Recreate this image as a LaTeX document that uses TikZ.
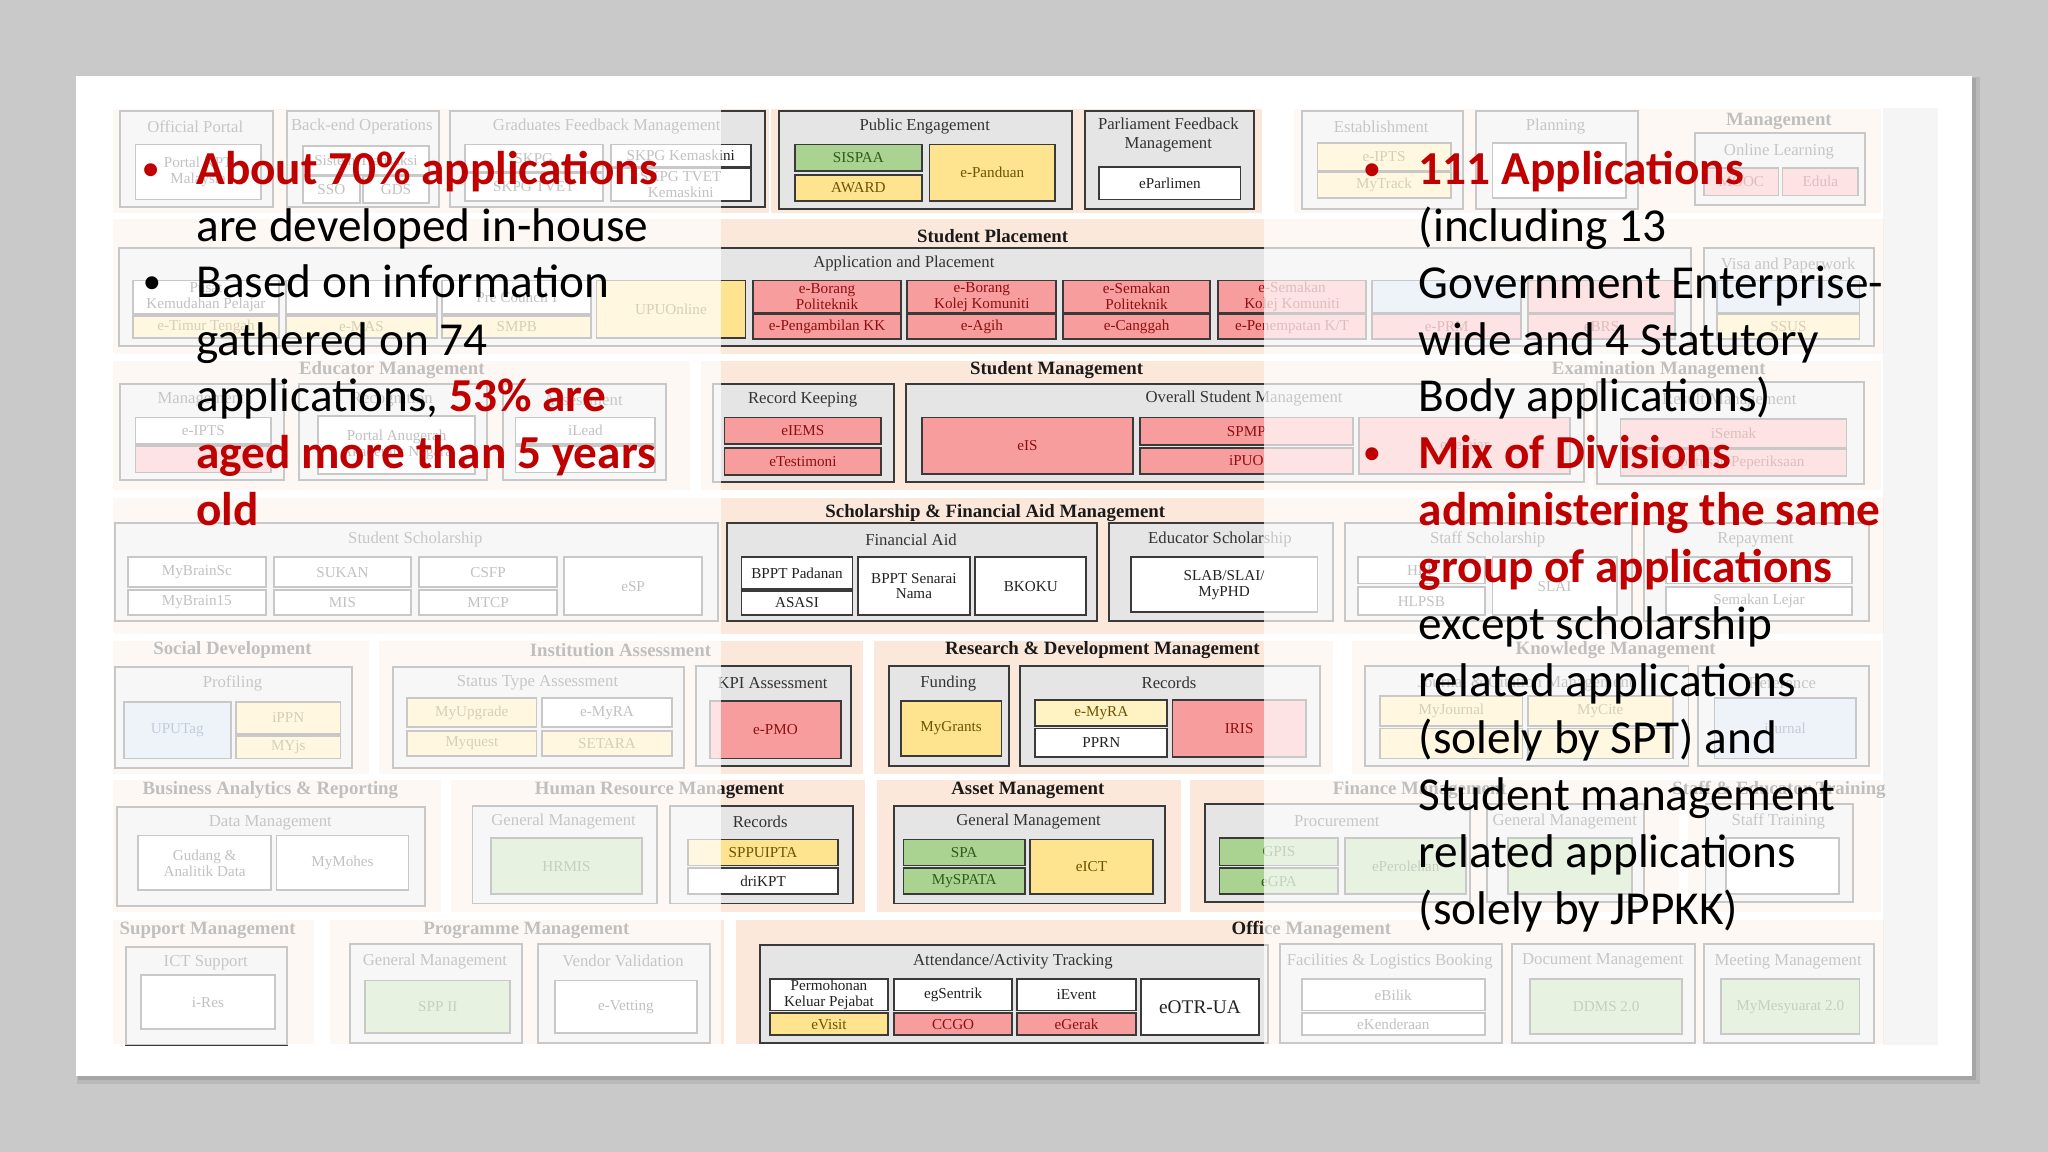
\documentclass[tikz,border=0pt]{standalone}
\usepackage{fontspec}
\setmainfont{Liberation Serif}
\newfontfamily\calibri{Carlito}
\definecolor{bgc}{HTML}{C9C9C9}
\definecolor{secc}{HTML}{FBE8DB}
\definecolor{grpc}{HTML}{E5E5E5}
\definecolor{bordc}{HTML}{3A3A3A}
\definecolor{redc}{HTML}{F89D9D}
\definecolor{redt}{HTML}{8C1010}
\definecolor{yelc}{HTML}{FFE48F}
\definecolor{ylic}{HTML}{FFF3C4}
\definecolor{yelt}{HTML}{6E5200}
\definecolor{grnc}{HTML}{AAD290}
\definecolor{grnt}{HTML}{2E5A1C}
\definecolor{bluc}{HTML}{C4D4EE}
\definecolor{blut}{HTML}{2A4A7A}
\definecolor{whtt}{HTML}{222222}
\definecolor{sectc}{HTML}{1A1A1A}
\definecolor{grptc}{HTML}{333333}
\definecolor{bred}{HTML}{C00000}
\newcommand\appf{\fontsize{5.8}{6.1}\selectfont}
\newcommand\grpf{\fontsize{6.4}{7.2}\selectfont}
\newcommand\secf{\fontsize{7.2}{8}\selectfont\bfseries}
\newcommand\blf{\calibri\fontsize{18.1}{21.8}\selectfont}
\newcommand\bulf{\calibri\fontsize{14}{16}\selectfont}
\newcommand\bx[7]{\node[#6,anchor=north west,minimum width={(#4-#2)*0.5pt},minimum height={(#5-#3)*0.5pt}] (#1) at (#2,#3) {#7};}
\newcommand\gx[7]{\bx{#1}{#2}{#3}{#4}{#5}{grp}{}\node[grpt] (#1t) at ({(#2+#4)/2},#6) {#7};}
\tikzset{
 sec/.style={fill=secc, draw=none, inner sep=0pt},
 sect/.style={font=\secf, text=sectc, inner sep=0pt},
 grp/.style={draw=bordc, fill=grpc, line width=0.75pt, inner sep=0pt},
 grpt/.style={font=\grpf, text=grptc, inner sep=0pt, align=center},
 app/.style={draw=bordc, line width=0.7pt, inner sep=0pt, align=center, font=\appf},
 apr/.style={app, fill=redc, text=redt},
 apy/.style={app, fill=yelc, text=yelt},
 apg/.style={app, fill=grnc, text=grnt},
 apw/.style={app, fill=white, text=whtt},
 apb/.style={app, fill=bluc, text=blut},
 apl/.style={app, fill=ylic, text=yelt},
 txt/.style={font=\blf, text=black, inner sep=0pt, anchor=base west},
 txr/.style={txt, font=\blf\bfseries, text=bred},
 bul/.style={font=\bulf, inner sep=0pt, anchor=base west}
}
\begin{document}
\begin{tikzpicture}[x=0.5pt,y=-0.5pt]
\useasboundingbox (0,0) rectangle (1568,882);
\fill[bgc] (0,0) rectangle (1568,882);
\fill[black,opacity=0.08] (59,59) rectangle (1516,830);
\fill[black,opacity=0.10] (60,60) rectangle (1513,827);
\fill[white] (58,58) rectangle (1510,824);
% sections
\bx{sA1}{86}{83}{588}{163}{sec}{}
\bx{sA2}{590}{83}{966}{163}{sec}{}
\bx{sA3}{990}{83}{1440}{163}{sec}{}
\bx{sB}{86}{167}{1442}{271}{sec}{}
\bx{sC1}{86}{276}{528}{375}{sec}{}
\bx{sC2}{536}{276}{1216}{375}{sec}{}
\bx{sC3}{1219}{276}{1440}{375}{sec}{}
\bx{sD}{86}{381}{1442}{485}{sec}{}
\bx{sE1}{86}{490}{282}{592}{sec}{}
\bx{sE2}{290}{490}{660}{592}{sec}{}
\bx{sE3}{669}{490}{1020}{592}{sec}{}
\bx{sE4}{1035}{490}{1440}{592}{sec}{}
\bx{sF1}{86}{597}{337}{698}{sec}{}
\bx{sF2}{345}{597}{662}{698}{sec}{}
\bx{sF3}{671}{597}{904}{698}{sec}{}
\bx{sF4}{911}{597}{1285}{698}{sec}{}
\bx{sF5}{1292}{597}{1440}{698}{sec}{}
\bx{sG1}{86}{704}{240}{799}{sec}{}
\bx{sG2}{252}{704}{554}{799}{sec}{}
\bx{sG3}{563}{704}{1442}{799}{sec}{}
% section titles
\node[sect] (tLM) at (1362,93) {Management};
\node[sect] (tSP) at (760,181) {Student Placement};
\node[sect] (tEM) at (300,283) {Educator Management};
\node[sect] (tSM) at (809,283) {Student Management};
\node[sect] (tXM) at (1270,283) {Examination Management};
\node[sect] (tSF) at (762,393) {Scholarship \& Financial Aid Management};
\node[sect] (tSD) at (178,498) {Social Development};
\node[sect] (tIA) at (475,498) {Institution Assessment};
\node[sect] (tRD) at (844,498) {Research \& Development Management};
\node[sect] (tKM) at (1237,498) {Knowledge Management};
\node[sect] (tBA) at (207,605) {Business Analytics \& Reporting};
\node[sect] (tHR) at (505,605) {Human Resource Management};
\node[sect] (tAM) at (787,605) {Asset Management};
\node[sect] (tFM) at (1087,605) {Finance Management};
\node[sect] (tST) at (1362,605) {Staff \& Educator Training};
\node[sect] (tSU) at (159,712) {Support Management};
\node[sect] (tPM) at (403,712) {Programme Management};
\node[sect] (tOM) at (1004,712) {Office Management};
% Row A
\gx{gOP}{91}{84}{208}{158}{97}{Official Portal}
\bx{aOP}{103}{110}{199}{152}{apw}{Portal KPT\\Malaysia}
\gx{gBO}{219}{84}{335}{158}{97}{Back-end Operations}
\bx{aST}{231}{111}{328}{133}{apw}{Sistem Transaksi}
\bx{aSSO}{231}{134}{275}{155}{apw}{SSO}
\bx{aGDS}{277}{134}{328}{155}{apw}{GDS}
\gx{gGF}{344}{84}{585}{158}{97}{Graduates Feedback Management}
\bx{aSK1}{355}{110}{461}{131}{apw}{SKPG}
\bx{aSK2}{355}{132}{461}{153}{apw}{SKPG TVET}
\bx{aSK3}{467}{110}{574}{127}{apw}{SKPG Kemaskini}
\bx{aSK4}{467}{128}{574}{153}{apw}{SKPG TVET\\Kemaskini}
\gx{gPE}{596}{84}{820}{159}{97}{Public Engagement}
\bx{aSIS}{608}{110}{705}{130}{apg}{SISPAA}
\bx{aAW}{608}{133}{705}{153}{apy}{AWARD}
\bx{aEP}{711}{110}{807}{153}{apy}{e-Panduan}
\gx{gPF}{830}{84}{959}{159}{103.5}{Parliament Feedback\\Management}
\bx{aPar}{841}{127}{949}{152}{apw}{eParlimen}
\gx{gES}{996}{84}{1119}{159}{97}{Establishment}
\bx{aIPT}{1008}{109}{1110}{130}{apy}{e-IPTS}
\bx{aMT}{1008}{131}{1110}{151}{apy}{MyTrack}
\gx{gPL}{1129}{84}{1253}{159}{97}{Planning}
\bx{aPL}{1142}{109}{1244}{151}{apw}{}
\gx{gOL}{1297}{101}{1427}{156}{116}{Online Learning}
\bx{aMO}{1304}{128}{1361}{149}{apr}{MOOC}
\bx{aED}{1364}{128}{1422}{149}{apr}{Edula}
% Row B
\gx{gAP}{90}{189}{1294}{264}{202}{Application and Placement}
\bx{aB1}{101}{214}{213}{240}{apw}{Pusat\\Kemudahan Pelajar}
\bx{aB1b}{101}{241}{213}{258}{apy}{e-Timur Tengah}
\bx{aB2}{218}{214}{334}{240}{apw}{}
\bx{aB2b}{218}{241}{334}{258}{apy}{e-MAS}
\bx{aB3}{338}{214}{452}{240}{apw}{Pre Council I}
\bx{aB3b}{338}{241}{452}{258}{apy}{SMPB}
\bx{aUPU}{456}{214}{570}{258}{apy}{UPUOnline}
\bx{aEB1}{576}{214}{689}{239}{apr}{e-Borang\\Politeknik}
\bx{aEP1}{576}{240}{689}{259}{apr}{e-Pengambilan KK}
\bx{aEB2}{694}{214}{808}{239}{apr}{e-Borang\\Kolej Komuniti}
\bx{aAG}{694}{240}{808}{259}{apr}{e-Agih}
\bx{aES1}{813}{214}{926}{239}{apr}{e-Semakan\\Politeknik}
\bx{aCG}{813}{240}{926}{259}{apr}{e-Canggah}
\bx{aES2}{932}{214}{1045}{239}{apr}{e-Semakan\\Kolej Komuniti}
\bx{aPN}{932}{240}{1045}{259}{apr}{e-Penempatan K/T}
\bx{aB5}{1050}{214}{1164}{239}{apb}{}
\bx{aB5b}{1050}{240}{1164}{259}{apr}{e-PRM}
\bx{aB6}{1169}{214}{1282}{239}{apr}{}
\bx{aB6b}{1169}{240}{1282}{259}{apr}{eBRS}
\gx{gVP}{1304}{189}{1434}{264}{203}{Visa and Paperwork}
\bx{aVP1}{1314}{214}{1423}{239}{apb}{}
\bx{aVP2}{1314}{240}{1423}{259}{apy}{SSUS}
% Row C
\gx{gMA}{91}{293}{217}{367}{306}{Management}
\bx{aIP}{103}{319}{207}{339}{apw}{e-IPTS}
\bx{aIPr}{103}{341}{207}{361}{apr}{}
\gx{gRC}{228}{293}{372}{367}{306}{Recognition}
\bx{aPA}{243}{318}{363}{362}{apw}{Portal Anugerah\\Akademik Negara}
\gx{gAS}{384}{293}{509}{367}{306}{Assessment}
\bx{aIL}{394}{319}{501}{339}{apw}{iLead}
\bx{aIL2}{394}{341}{501}{361}{apw}{}
\gx{gRK}{545}{293}{684}{368}{306}{Record Keeping}
\bx{aIEMS}{554}{319}{674}{339}{apr}{eIEMS}
\bx{aTES}{554}{342}{674}{363}{apr}{eTestimoni}
\gx{gOS}{693}{293}{1212}{368}{305}{Overall Student Management}
\bx{aEIS}{705}{319}{867}{362}{apr}{eIS}
\bx{aSPMP}{872}{319}{1035}{340}{apr}{SPMP}
\bx{aIPUO}{872}{342}{1035}{362}{apr}{iPUO}
\bx{aPEL}{1040}{319}{1201}{362}{apr}{ePelajar}
\gx{gXM}{1222}{292}{1426}{370}{307}{Result Management}
\bx{aXM1}{1240}{320}{1413}{342}{apr}{iSemak}
\bx{aXM2}{1240}{343}{1413}{364}{apr}{Keputusan Peperiksaan}
% Row D
\gx{gSS}{87}{400}{549}{475}{413}{Student Scholarship}
\bx{aMB1}{97}{426}{203}{449}{apw}{MyBrainSc}
\bx{aMB2}{97}{451}{203}{470}{apw}{MyBrain15}
\bx{aSUK}{209}{426}{314}{449}{apw}{SUKAN}
\bx{aMIS}{209}{451}{314}{470}{apw}{MIS}
\bx{aCSF}{320}{426}{426}{449}{apw}{CSFP}
\bx{aMTC}{320}{451}{426}{470}{apw}{MTCP}
\bx{aESP}{431}{426}{537}{470}{apw}{eSP}
\gx{gFA}{556}{400}{839}{475}{413}{Financial Aid}
\bx{aBP}{567}{426}{652}{450}{apw}{BPPT Padanan}
\bx{aAS}{567}{452}{652}{470}{apw}{ASASI}
\bx{aBS}{656}{426}{742}{470}{apw}{BPPT Senarai\\Nama}
\bx{aBK}{746}{426}{831}{470}{apw}{BKOKU}
\gx{gEDS}{848}{400}{1020}{475}{413}{Educator Scholarship}
\bx{aSLAB}{865}{426}{1008}{468}{apw}{SLAB/SLAI/\\MyPHD}
\gx{gSTS}{1029}{400}{1249}{475}{413}{Staff Scholarship}
\bx{aHLP}{1039}{426}{1136}{446}{apw}{HLP}
\bx{aHLPS}{1039}{449}{1136}{470}{apw}{HLPSB}
\bx{aSLAI}{1142}{426}{1237}{470}{apw}{SLAI}
\gx{gRP}{1258}{400}{1430}{475}{413}{Repayment}
\bx{aRP1}{1275}{426}{1417}{446}{apw}{}
\bx{aRP2}{1275}{449}{1417}{470}{apw}{Semakan Lejar}
% Row E
\gx{gPR}{87}{510}{269}{587}{523}{Profiling}
\bx{aUT}{94}{537}{176}{580}{apb}{UPUTag}
\bx{aPPN}{180}{537}{260}{561}{apy}{iPPN}
\bx{aMYJ}{180}{563}{260}{580}{apy}{MYjs}
\gx{gSTA}{300}{510}{523}{587}{523}{Status Type Assessment}
\bx{aMU}{311}{534}{410}{556}{apy}{MyUpgrade}
\bx{aEMR}{414}{534}{514}{556}{apw}{e-MyRA}
\bx{aMQ}{311}{559}{410}{578}{apy}{Myquest}
\bx{aSET}{414}{559}{514}{578}{apy}{SETARA}
\gx{gKPI}{532}{509}{651}{586}{523}{KPI Assessment}
\bx{aPMO}{543}{536}{643}{580}{apr}{e-PMO}
\gx{gFU}{680}{509}{772}{586}{523}{Funding}
\bx{aMG}{689}{536}{766}{578}{apy}{MyGrants}
\gx{gREC}{780}{509}{1010}{586}{523}{Records}
\bx{aMYRA}{792}{535}{893}{555}{apl}{e-MyRA}
\bx{aPPRN}{792}{557}{893}{579}{apw}{PPRN}
\bx{aIRIS}{897}{535}{999}{579}{apr}{IRIS}
\gx{gJC}{1044}{509}{1292}{586}{523}{Journal \& Citation Management}
\bx{aMJ}{1056}{532}{1165}{555}{apy}{MyJournal}
\bx{aMC}{1169}{532}{1280}{555}{apy}{MyCite}
\bx{aJ3}{1056}{557}{1165}{580}{apy}{}
\bx{aJ4}{1169}{557}{1280}{580}{apy}{}
\gx{gRF}{1299}{509}{1430}{586}{523}{Reference}
\bx{aIJ}{1312}{534}{1420}{580}{apb}{iJurnal}
% Row F
\gx{gDM}{89}{617}{325}{693}{630}{Data Management}
\bx{aGA}{105}{639}{207}{681}{apw}{Gudang \&\\Analitik Data}
\bx{aMM}{211}{639}{312}{681}{apw}{MyMohes}
\gx{gGM1}{361}{616}{502}{691}{629}{General Management}
\bx{aHRM}{375}{641}{491}{684}{apg}{HRMIS}
\gx{gREC2}{512}{616}{652}{691}{629}{Records}
\bx{aSPP}{526}{642}{641}{662}{apy}{SPPUIPTA}
\bx{aDRI}{526}{664}{641}{684}{apw}{driKPT}
\gx{gGM2}{684}{616}{891}{691}{629}{General Management}
\bx{aSPA}{691}{642}{784}{662}{apg}{SPA}
\bx{aMSP}{691}{664}{784}{684}{apg}{MySPATA}
\bx{aICT}{788}{642}{882}{684}{apy}{eICT}
\gx{gPC}{922}{615}{1125}{690}{629}{Procurement}
\bx{aGP}{933}{641}{1024}{662}{apg}{GPIS}
\bx{aGPA}{933}{664}{1024}{684}{apg}{eGPA}
\bx{aPER}{1029}{641}{1122}{684}{apg}{ePerolehan}
\gx{gGM3}{1138}{615}{1258}{690}{629}{General Management}
\bx{aGM3}{1154}{641}{1249}{684}{apg}{}
\gx{gSTR}{1305}{615}{1418}{690}{629}{Staff Training}
\bx{aSTR}{1321}{641}{1407}{684}{apw}{}
% Row G
\gx{gICT}{96}{724}{219}{799}{737}{ICT Support}
\bx{aIR}{107}{746}{210}{787}{apw}{i-Res}
\gx{gGM4}{267}{722}{399}{798}{736}{General Management}
\bx{aSPP2}{279}{750}{390}{790}{apg}{SPP II}
\gx{gVV}{411}{722}{543}{798}{736}{Vendor Validation}
\bx{aVET}{424}{750}{533}{790}{apw}{e-Vetting}
\gx{gAT}{581}{723}{970}{798}{736}{Attendance/Activity Tracking}
\bx{aPKP}{589}{749}{679}{773}{apw}{Permohonan\\Keluar Pejabat}
\bx{aEV}{589}{775}{679}{792}{apy}{eVisit}
\bx{aEG}{684}{749}{774}{773}{apw}{egSentrik}
\bx{aCC}{684}{775}{774}{792}{apr}{CCGO}
\bx{aIE}{778}{749}{869}{773}{apw}{iEvent}
\bx{aGE}{778}{775}{869}{792}{apr}{eGerak}
\bx{aOTR}{873}{749}{963}{792}{apw}{\fontsize{7.4}{8}\selectfont eOTR-UA}
\gx{gFL}{979}{722}{1149}{798}{736}{Facilities \& Logistics Booking}
\bx{aBIL}{996}{749}{1136}{773}{apw}{eBilik}
\bx{aKEN}{996}{775}{1136}{792}{apw}{eKenderaan}
\gx{gDOC}{1157}{722}{1297}{798}{736}{Document Management}
\bx{aDD}{1171}{749}{1287}{791}{apg}{DDMS 2.0}
\gx{gMEET}{1304}{722}{1434}{798}{736}{Meeting Management}
\bx{aMY}{1317}{749}{1423}{791}{apg}{MyMesyuarat 2.0}
% fades
\fill[white,opacity=0.72] (83,83) rectangle (552,800);
\fill[white,opacity=0.72] (968,83) rectangle (1484,800);
\fill[black,opacity=0.04] (1442,83) rectangle (1484,800);
% left text
\node[bul,text=bred] (lb1) at (108,138) {•};
\node[txr] (l1) at (150,141) {About 70\% applications};
\node[txt] (l2) at (150,185) {are developed in-house};
\node[bul,text=black] (lb2) at (109,225) {•};
\node[txt] (l3) at (150,228) {Based on information};
\node[txt] (l4) at (150,272) {gathered on 74};
\node[txt] (l5) at (150,315) {applications, \textcolor{bred}{\bfseries 53\% are}};
\node[txr] (l6) at (150,359) {aged more than 5 years};
\node[txr] (l7) at (150,402) {old};
% right text
\node[bul,text=bred] (rb1) at (1043,138) {•};
\node[txr] (r1) at (1086,141) {111 Applications};
\node[txt] (r2) at (1086,184.6) {(including 13};
\node[txt] (r3) at (1086,228.2) {Government Enterprise-};
\node[txt] (r4) at (1086,271.8) {wide and 4 Statutory};
\node[txt] (r5) at (1086,315.4) {Body applications)};
\node[bul,text=bred] (rb2) at (1043,356) {•};
\node[txr] (r6) at (1086,359) {Mix of Divisions};
\node[txr] (r7) at (1086,402.6) {administering the same};
\node[txr] (r8) at (1086,446.2) {group of applications};
\node[txt] (r9) at (1086,489.8) {except scholarship};
\node[txt] (r10) at (1086,533.4) {related applications};
\node[txt] (r11) at (1086,577) {(solely by SPT) and};
\node[txt] (r12) at (1086,620.6) {Student management};
\node[txt] (r13) at (1086,664.2) {related applications};
\node[txt] (r14) at (1086,707.8) {(solely by JPPKK)};
\end{tikzpicture}
\end{document}
